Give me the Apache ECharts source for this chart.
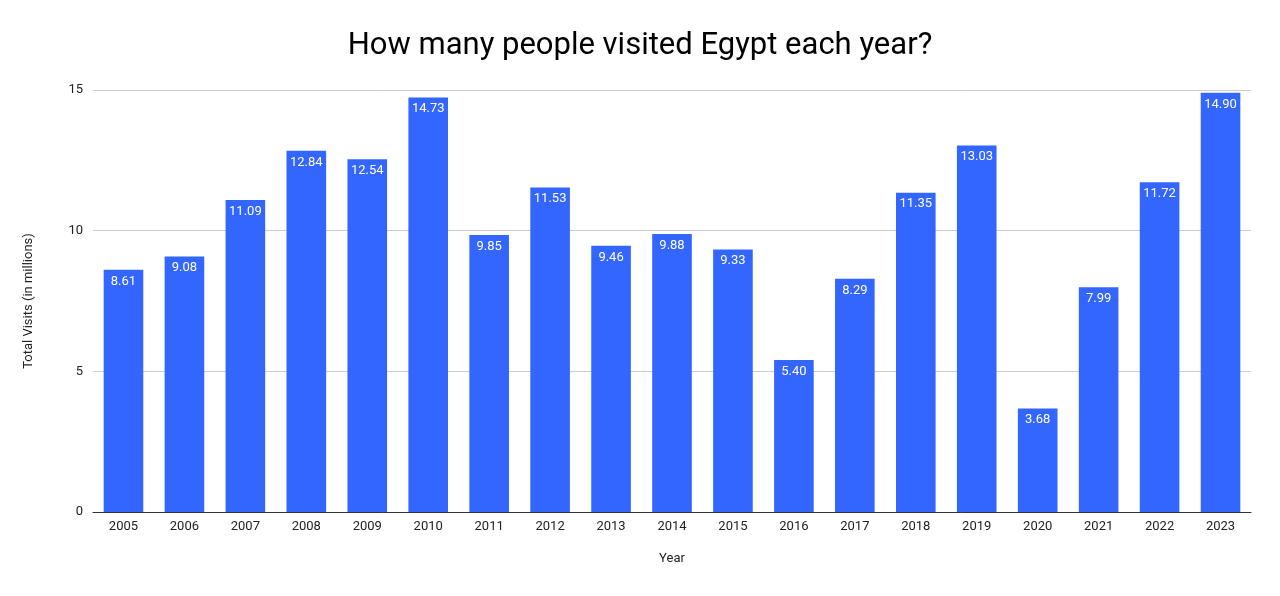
<!DOCTYPE html>
<html>
<head>
<meta charset="utf-8">
<script src="https://cdn.jsdelivr.net/npm/echarts@6/dist/echarts.min.js"></script>
<style>
  html, body { margin: 0; padding: 0; background: #fff; }
  #chart { width: 1280px; height: 596px; }
</style>
</head>
<body>
<div id="chart"></div>
<script>
const years = ["2005", "2006", "2007", "2008", "2009", "2010", "2011", "2012", "2013", "2014",
  "2015", "2016", "2017", "2018", "2019", "2020", "2021", "2022", "2023"];
const visits = [8.61, 9.08, 11.09, 12.84, 12.54, 14.73, 9.85, 11.53, 9.46, 9.88,
  9.33, 5.40, 8.29, 11.35, 13.03, 3.68, 7.99, 11.72, 14.90];

const chart = echarts.init(document.getElementById("chart"));
chart.setOption({
  textStyle: { fontFamily: "Roboto, Arial, sans-serif" },
  title: {
    text: "How many people visited Egypt each year?",
    left: "center",
    top: 26,
    textStyle: { fontSize: 31, fontWeight: "normal", color: "#000" },
  },
  grid: { left: 93, right: 29, top: 90, bottom: 84 },
  xAxis: {
    type: "category",
    data: years,
    name: "Year",
    nameLocation: "middle",
    nameGap: 40,
    nameTextStyle: { fontSize: 13, color: "#222" },
    axisTick: { show: false },
    axisLine: { lineStyle: { color: "#333" } },
    axisLabel: { fontSize: 13, color: "#222", margin: 8 },
  },
  yAxis: {
    type: "value",
    min: 0,
    max: 15,
    interval: 5,
    name: "Total Visits (in millions)",
    nameLocation: "middle",
    nameGap: 58,
    nameTextStyle: { fontSize: 13, color: "#222" },
    axisLabel: { fontSize: 13, color: "#222", margin: 10 },
    splitLine: { lineStyle: { color: "#ccc" } },
  },
  series: [{
    type: "bar",
    data: visits,
    barWidth: "65%",
    itemStyle: { color: "#3366ff" },
    label: {
      show: true,
      position: "insideTop",
      distance: 5,
      color: "#fff",
      fontSize: 13,
      formatter: (p) => p.value.toFixed(2),
    },
  }],
});
</script>
</body>
</html>
